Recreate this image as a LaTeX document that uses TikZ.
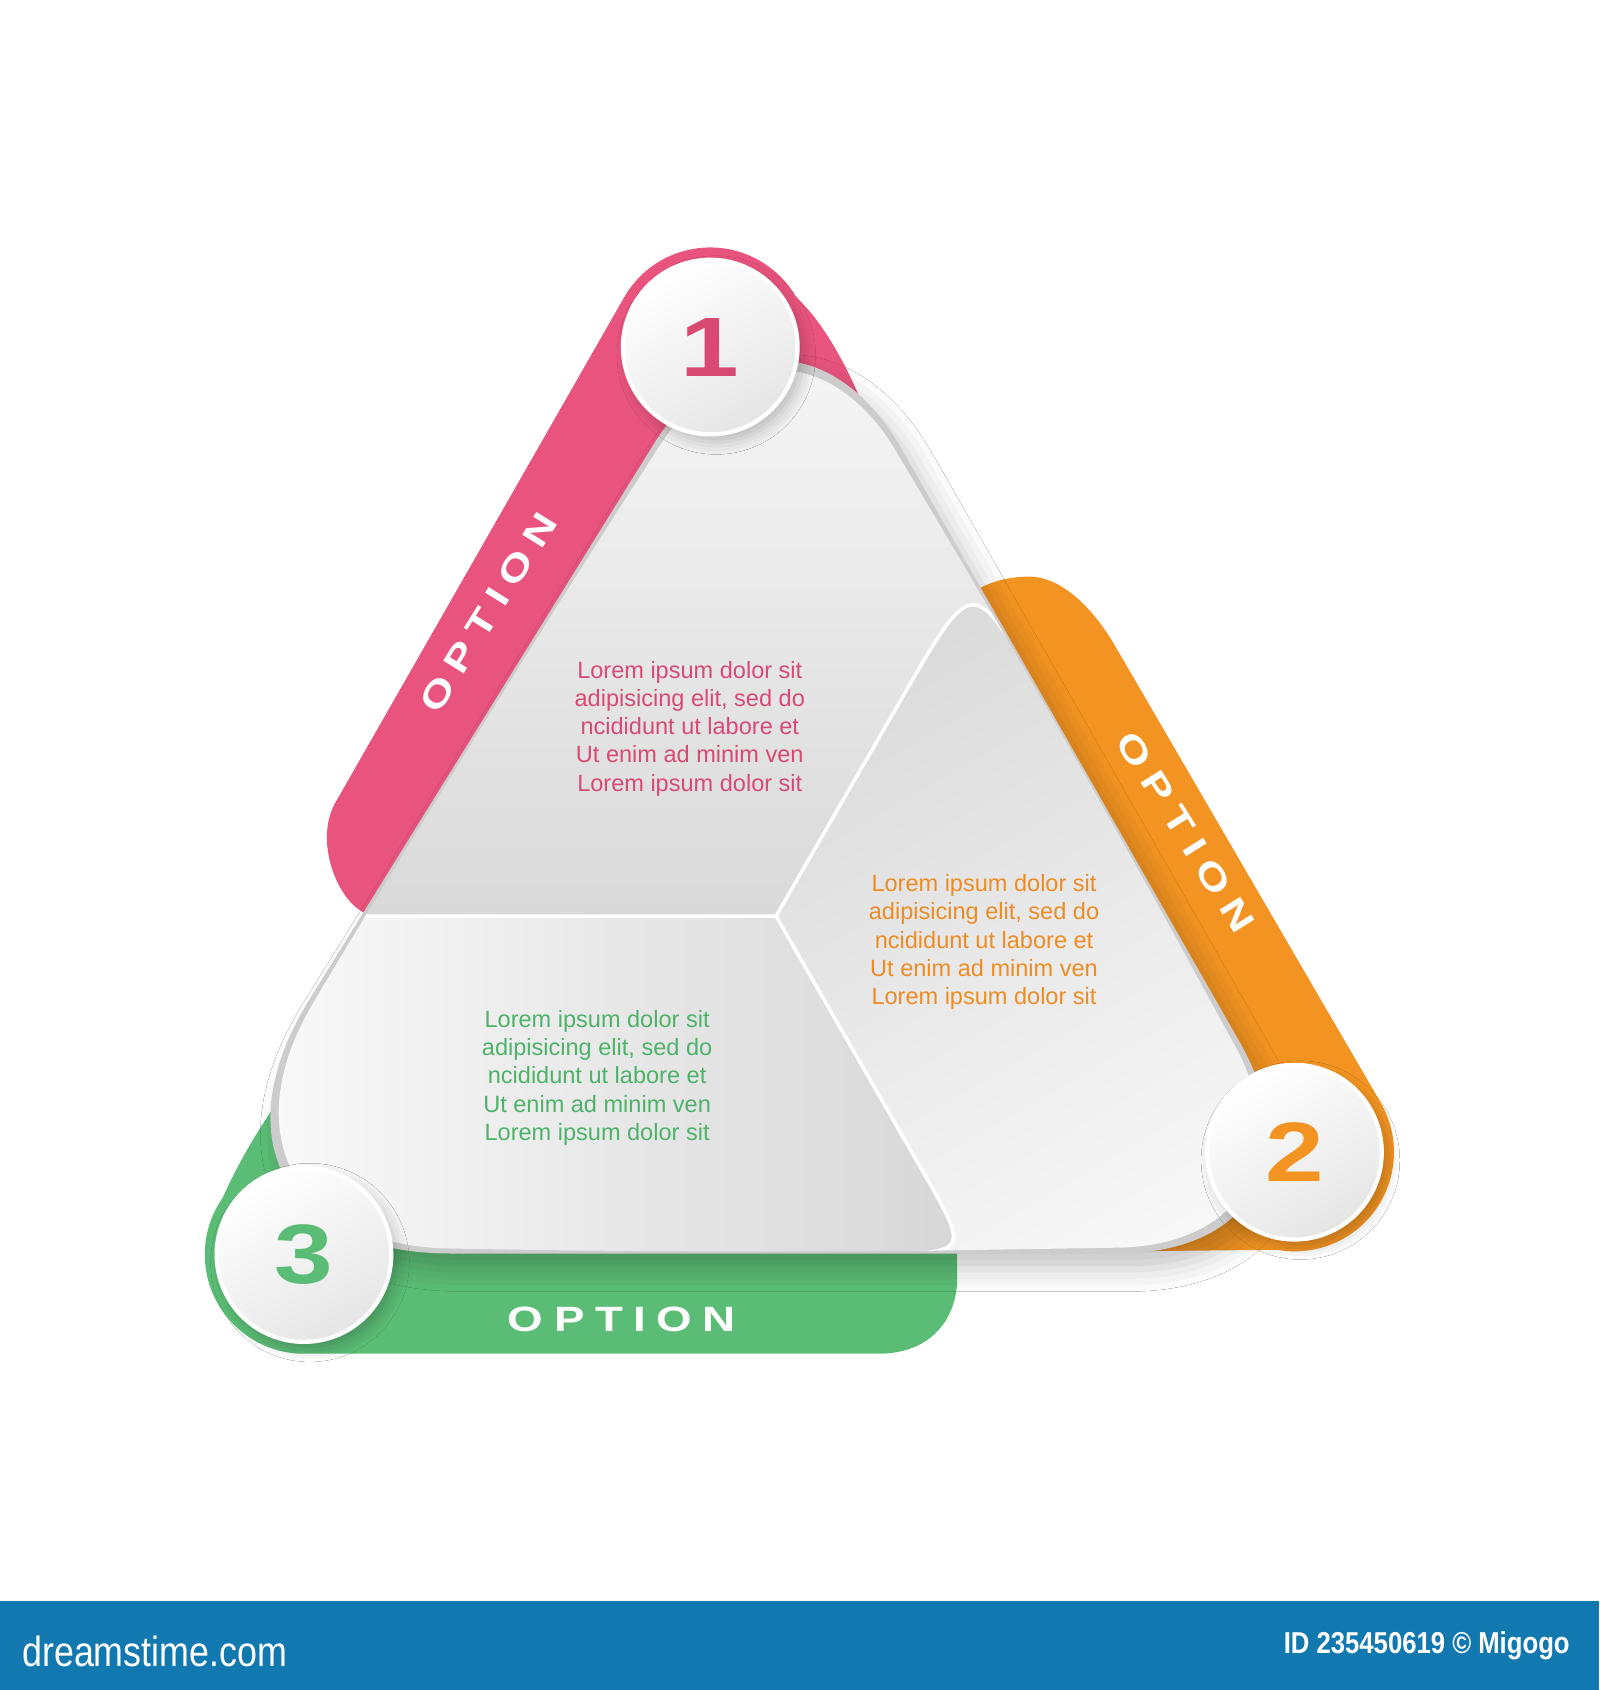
\documentclass[tikz,border=0pt]{standalone}
\usepackage{fontspec}
\setmainfont{Liberation Sans}
\newfontfamily\optfont[FakeStretch=1.3,LetterSpace=30]{Liberation Sans}
\newfontfamily\numfont[FakeStretch=1.25]{Liberation Sans}
\newfontfamily\footfont[FakeStretch=0.85]{Liberation Sans}
\usepackage{xcolor}
\usetikzlibrary{calc, shadows.blur}
\definecolor{pinkband}{HTML}{E8547D}
\definecolor{pinktext}{HTML}{D94A72}
\definecolor{orangeband}{HTML}{F39422}
\definecolor{orangetext}{HTML}{EE8C24}
\definecolor{greenband}{HTML}{5BBD75}
\definecolor{greentext}{HTML}{4DB26A}
\definecolor{footblue}{HTML}{1178B0}
\tikzset{
  numdisc/.style={circle, minimum size=17.47mm, inner sep=0pt, top color=white, bottom color=black!10, shading angle=30, draw=white, line width=1.2pt, blur shadow={shadow xshift=0.6mm, shadow yshift=-0.8mm, shadow blur radius=1.2mm, shadow opacity=22}, font=\numfont\bfseries\fontsize{24}{24}\selectfont},
  lorem/.style={align=center, inner sep=0pt, font=\fontsize{6.7}{8.05}\selectfont},
  optlabel/.style={inner sep=0pt, text=white, font=\optfont\bfseries\fontsize{10}{10}\selectfont}
}

\begin{document}
\begin{tikzpicture}[x=0.10782mm, y=-0.10782mm]
  \useasboundingbox (0,0) rectangle (1484,1568);
  \fill[white] (0,0) rectangle (1484,1568);

  % corners of the big triangle, panel points
  \coordinate (A) at (725,221);
  \coordinate (B) at (1262,1163);
  \coordinate (C) at (141,1163);
  \coordinate (G) at (709,849);
  \coordinate (O) at (720,850);
  \coordinate (L1) at (335,850);
  \coordinate (R1) at (903,533);
  \coordinate (B1) at (900,1163);

  % colour bands under the triangle
  \fill[pinkband] (470,845) -- (350,850) .. controls (318,850) and (289,784) .. (311,745) -- (579,276)
    arc[start angle=209.7, end angle=330, radius=92] .. controls (765,300) and (790,345) .. (810,400)
    -- (720,430) -- (560,800) -- cycle;
  \fill[orangeband] (905,548) .. controls (918,540) and (935,535) .. (955,535) .. controls (985,535) and (1015,565) .. (1035,600)
    -- (1281,1023) arc[start angle=-30, end angle=100, radius=92] -- (1040,1161) -- (1040,1100) -- (905,600) -- cycle;
  \fill[greenband] (888,1140) -- (888,1190) .. controls (886,1228) and (860,1256) .. (815,1256) -- (282,1256)
    arc[start angle=90, end angle=215, radius=92] .. controls (225,1070) and (250,1030) .. (285,985)
    -- (330,1000) -- (330,1140) -- cycle;

  % triangle with its rim
  \fill[black!20, blur shadow={shadow xshift=1.2mm, shadow yshift=-1.6mm, shadow blur radius=2.2mm, shadow opacity=22}]
    ($(A)!0.5!(B)$) [rounded corners=24.3mm] -- (B) -- ($(B)!0.5!(C)$) [rounded corners=29.9mm] -- (C)
    -- ($(C)!0.5!(A)$) [rounded corners=24.3mm] -- (A) -- cycle;
  \begin{scope}
    \clip ($(A)!0.5!(B)$) [rounded corners=22.6mm] -- ($(B)!0.028!(G)$) -- ($(B)!0.5!(C)$) [rounded corners=28.2mm]
      -- ($(C)!0.028!(G)$) -- ($(C)!0.5!(A)$) [rounded corners=22.6mm] -- ($(A)!0.028!(G)$) -- cycle;
    \shade[top color=white, bottom color=black!16] (100,150) rectangle (1300,900);
    \shade[top color=black!14, bottom color=white, shading angle=30] (O) -- ($(R1)!14mm!(O)$) .. controls (R1) .. ($(R1)!14mm!(B)$)
      -- (1349,1315) -- (800,1315) -- (O);
    \shade[left color=white, right color=black!16] (O) -- ($(B1)!9.7mm!(O)$) .. controls (B1) .. ($(B1)!9.7mm!(C)$)
      -- (C) -- (L1) -- (O);
    \draw[white, line width=1pt] (L1) -- (O) -- ($(R1)!14mm!(O)$) .. controls (R1) .. ($(R1)!14mm!(B)$);
    \draw[white, line width=1pt] (O) -- ($(B1)!9.7mm!(O)$) .. controls (B1) .. ($(B1)!9.7mm!(C)$);
  \end{scope}

  % numbered discs
  \foreach \n/\x/\y/\col in {1/659/322/pinktext, 2/1201/1069/orangeband, 3/282/1164/greenband}
    \node[numdisc, text=\col] (disc\n) at (\x,\y) {\n};

  % texts
  \foreach \n/\x/\y/\col in {1/640/676/pinktext, 2/913/874/orangetext, 3/554/1000/greentext}
    \node[lorem, text=\col] (body\n) at (\x,\y) {Lorem ipsum dolor sit\\adipisicing elit, sed do\\ncididunt ut labore et\\Ut enim ad minim ven\\Lorem ipsum dolor sit};
  \node[optlabel, rotate=58] (opt1) at (453,568) {OPTION};
  \node[optlabel, rotate=-58] (opt2) at (1100,772) {OPTION};
  \node[optlabel] (opt3) at (577,1224) {OPTION};

  % footer
  \fill[footblue] (0,1485) rectangle (1484,1568);
  \node[anchor=west, inner sep=0pt, text=white, font=\footfont\fontsize{12}{12}\selectfont] (site) at (20,1532) {dreamstime.com};
  \node[anchor=east, inner sep=0pt, text=white, font=\footfont\bfseries\fontsize{8.6}{8.6}\selectfont] (imgid) at (1457,1527) {ID 235450619 © Migogo};
\end{tikzpicture}
\end{document}
